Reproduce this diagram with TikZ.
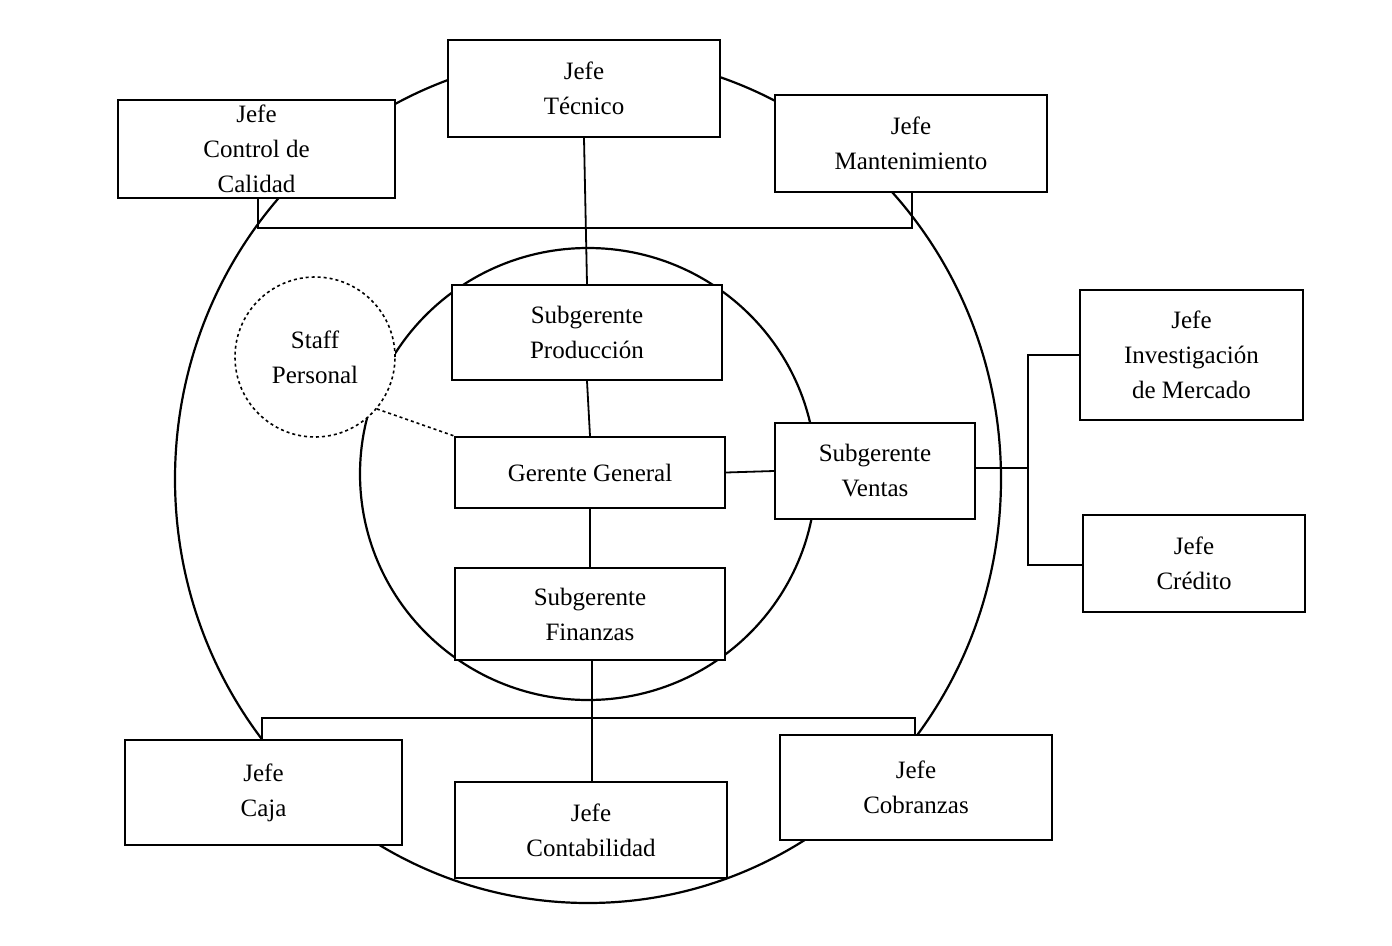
\documentclass[tikz,border=0pt]{standalone}
\usepackage{fontspec}
\setmainfont{Liberation Serif}
\begin{document}
\begin{tikzpicture}[x=1pt,y=-1pt,line width=2.2pt,
  bx/.style={draw,align=center,inner sep=0pt,font=\fontsize{25}{35}\selectfont},
  ln/.style={line width=1.8pt}]
\useasboundingbox (0,0) rectangle (1392,945);
\draw (588,479) ellipse [x radius=413, y radius=424];
\draw (588,474) ellipse [x radius=228, y radius=226];
\node[draw,dashed,circle,minimum size=160pt,line width=1.6pt,fill=white,align=center,font=\fontsize{25}{35}\selectfont] (staff) at (315,357) {Staff\\Personal};
\newcommand\bxat[6]{\node[bx,fill=white,minimum width=#4-#2,minimum height=#5-#3] (#1) at ({(#2+#4)/2},{(#3+#5)/2}) {#6};}
\bxat{tec}{448}{40}{720}{137}{Jefe\\Técnico}
\bxat{cal}{118}{100}{395}{198}{Jefe\\Control de\\Calidad}
\bxat{man}{775}{95}{1047}{192}{Jefe\\Mantenimiento}
\bxat{pro}{452}{285}{722}{380}{Subgerente\\Producción}
\bxat{ger}{455}{437}{725}{508}{Gerente General}
\bxat{ven}{775}{423}{975}{519}{Subgerente\\Ventas}
\bxat{fin}{455}{568}{725}{660}{Subgerente\\Finanzas}
\bxat{inv}{1080}{290}{1303}{420}{Jefe\\Investigación\\de Mercado}
\bxat{cre}{1083}{515}{1305}{612}{Jefe\\Crédito}
\bxat{caj}{125}{740}{402}{845}{Jefe\\Caja}
\bxat{con}{455}{782}{727}{878}{Jefe\\Contabilidad}
\bxat{cob}{780}{735}{1052}{840}{Jefe\\Cobranzas}
\coordinate (b1) at (258,228); \coordinate (b2) at (912,228);
\coordinate (c1) at (262,718); \coordinate (c2) at (915,718);
\coordinate (v1) at (1028,355); \coordinate (v2) at (1028,565); \coordinate (vm) at (1028,468);
\draw[ln] (tec.south) -- (pro.north);
\draw[ln] (cal.south -| b1) -- (b1) -- (b2) -- (man.south -| b2);
\draw[ln] (pro.south) -- (ger.north);
\draw[ln] (ger.south) -- (fin.north);
\draw[ln] (ger.east) -- (ven.west);
\draw[ln] (ven.east |- vm) -- (vm);
\draw[ln] (inv.west |- v1) -- (v1) -- (v2) -- (cre.west |- v2);
\draw[ln] (fin.south -| 592,0) -- (con.north -| 592,0);
\draw[ln] (caj.north -| c1) -- (c1) -- (c2) -- (cob.north -| c2);
\draw[ln,dashed,line width=1.6pt] (staff.-40) -- (ger.north west);
\end{tikzpicture}
\end{document}
